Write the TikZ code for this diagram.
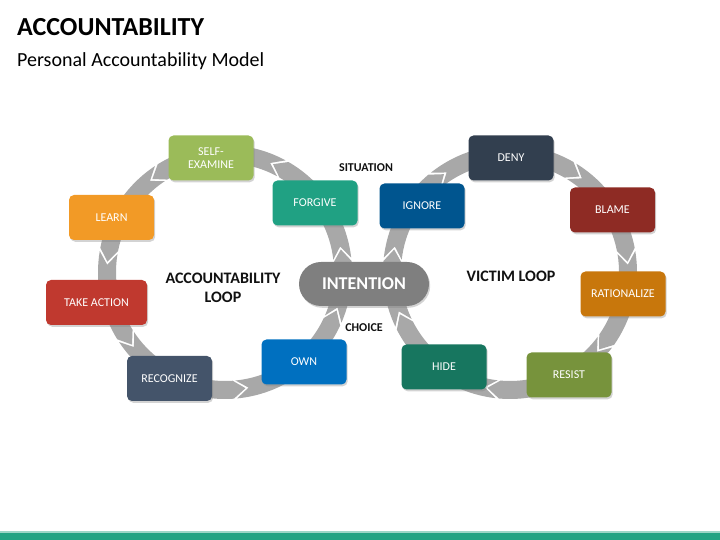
\documentclass[tikz,border=0pt]{standalone}
\usepackage{fontspec}
\setmainfont{Carlito}
\usepackage{tikz}
\usetikzlibrary{positioning,shadows}
\definecolor{selfgreen}{HTML}{9BBB59}
\definecolor{learnorange}{HTML}{F29A26}
\definecolor{actred}{HTML}{C0392F}
\definecolor{recogslate}{HTML}{44546A}
\definecolor{ownblue}{HTML}{0070C0}
\definecolor{forgiveteal}{HTML}{20A183}
\definecolor{ignoreblue}{HTML}{00558F}
\definecolor{denynavy}{HTML}{323F4F}
\definecolor{blamered}{HTML}{8E2B24}
\definecolor{rationorange}{HTML}{C8770C}
\definecolor{resistgreen}{HTML}{77933C}
\definecolor{hidegreen}{HTML}{17765F}
\definecolor{intentgray}{HTML}{7F7F7F}
\definecolor{ringgray}{HTML}{A8A8A8}
\definecolor{barteal}{HTML}{22A383}
\definecolor{ink}{HTML}{111111}
\newcommand{\ringout}{127}
\newcommand{\ringin}{109}
\newcommand{\ringmid}{118}
\newcommand{\ringtip}{6}
% one chevron piece of a loop: centre, from angle, to angle, sense (1 or -1)
\newcommand{\chevarc}[4]{%
  \begin{scope}[shift={(#1)}]
    \fill[ringfill] ({#2+(#4)*1.5}:\ringout) arc[start angle={#2+(#4)*1.5},end angle=#3,radius=\ringout]
      -- ({#3+(#4)*\ringtip}:\ringmid) -- (#3:\ringin)
      arc[start angle=#3,end angle={#2+(#4)*1.5},radius=\ringin]
      -- ({#2+(#4)*(1.5+\ringtip)}:\ringmid) -- cycle;
  \end{scope}}
\tikzset{
    every picture/.style={line cap=round,line join=round},
    loopbox/.style={rounded corners=5pt,minimum width=85pt,minimum height=45pt,
      inner sep=2pt,text=white,font=\fontsize{12}{13.5}\selectfont,align=center,
      drop shadow={shadow xshift=1.2pt,shadow yshift=-1.8pt,opacity=0.35}},
    pill/.style={rounded corners=22pt,minimum width=130pt,minimum height=44pt,
      fill=intentgray,text=white,font=\bfseries\fontsize{18}{20}\selectfont,
      drop shadow={shadow xshift=1.2pt,shadow yshift=-1.8pt,opacity=0.35}},
    looplabel/.style={text=ink,font=\bfseries\fontsize{16}{19}\selectfont,align=center},
    tinylabel/.style={text=ink,font=\bfseries\fontsize{12}{13}\selectfont},
    ringfill/.style={fill=ringgray}
}

\begin{document}
\begin{tikzpicture}[x=1pt,y=1pt]
  \useasboundingbox (0,0) rectangle (720,540);
  \fill[barteal!45] (0,7) rectangle (720,8.5);
  \fill[barteal] (0,0) rectangle (720,7);
  \node[anchor=base west,inner sep=0pt,font=\bfseries\fontsize{26}{30}\selectfont] (title) at (17,504) {ACCOUNTABILITY};
  \node[anchor=base west,inner sep=0pt,font=\fontsize{20}{23}\selectfont] (subtitle) at (17,473) {Personal Accountability Model};

  \coordinate (accl) at (225,268);
  \coordinate (vicl) at (510,268);
  \foreach \a/\b in {5/60,60/122,122/169,169/212,212/274,274/335,335/365}
    \chevarc{accl}{\a}{\b}{1};
  \foreach \a/\b in {175/130,130/60,60/11,11/-35,-35/-95,-95/-153,-153/-185}
    \chevarc{vicl}{\a}{\b}{-1};

  \node[loopbox,fill=selfgreen] (selfex) at (211,382) {SELF-\\EXAMINE};
  \node[loopbox,fill=learnorange] (learn) at (111.5,322.5) {LEARN};
  \node[loopbox,fill=actred,minimum width=101pt] (takeact) at (96.5,237.5) {TAKE ACTION};
  \node[loopbox,fill=recogslate] (recog) at (169.5,161.5) {RECOGNIZE};
  \node[loopbox,fill=ownblue] (own) at (304,178) {OWN};
  \node[loopbox,fill=forgiveteal] (forgive) at (315,337) {FORGIVE};
  \node[loopbox,fill=ignoreblue] (ignore) at (422,334) {IGNORE};
  \node[loopbox,fill=denynavy] (deny) at (511,382) {DENY};
  \node[loopbox,fill=blamered] (blame) at (612.5,330) {BLAME};
  \node[loopbox,fill=rationorange] (ration) at (623,246) {RATIONALIZE};
  \node[loopbox,fill=resistgreen] (resist) at (569,165) {RESIST};
  \node[loopbox,fill=hidegreen] (hide) at (444,173) {HIDE};
  \node[pill] (intent) at (364,256) {INTENTION};

  \node[tinylabel] (situation) at (366,372) {SITUATION};
  \node[tinylabel] (choice) at (364,212) {CHOICE};
  \node[looplabel] (acclabel) at (223,252) {ACCOUNTABILITY\\LOOP};
  \node[looplabel] (viclabel) at (511,264) {VICTIM LOOP};
\end{tikzpicture}
\end{document}
